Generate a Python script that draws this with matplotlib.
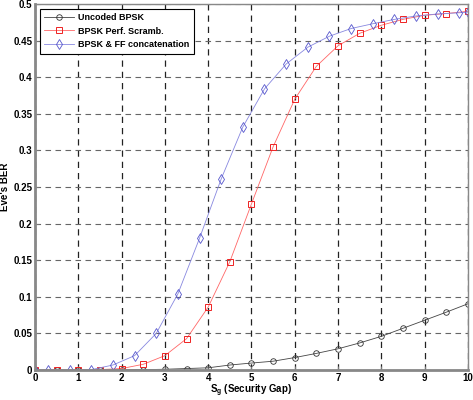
import matplotlib.pyplot as plt

plt.rcParams['font.family'] = ['Liberation Sans', 'DejaVu Sans']
plt.rcParams['font.weight'] = 'bold'
plt.rcParams['mathtext.default'] = 'regular'

# Security gap values (x) and Eve's BER curves
x_half = [0, 0.5, 1, 1.5, 2, 2.5, 3, 3.5, 4, 4.5, 5, 5.5, 6, 6.5, 7, 7.5, 8, 8.5, 9, 9.5, 10]

ber_uncoded = [0.0, 0.0, 0.0, 0.0002, 0.0003, 0.0005, 0.001, 0.002, 0.003, 0.0068, 0.0095,
               0.012, 0.017, 0.0227, 0.029, 0.037, 0.046, 0.057, 0.068, 0.079, 0.0905]

ber_scramb = [0.0, 0.0, 0.0, 0.0005, 0.002, 0.0078, 0.0196, 0.0428, 0.086, 0.148, 0.227,
              0.305, 0.370, 0.415, 0.443, 0.460, 0.471, 0.479, 0.4846, 0.487, 0.490]

x_ff = [0, 0.3, 0.8, 1.3, 1.8, 2.3, 2.8, 3.3, 3.8, 4.3, 4.8, 5.3, 5.8, 6.3, 6.8,
        7.3, 7.8, 8.3, 8.8, 9.3, 9.8, 10]
ber_ff = [0.0, 0.0, 0.0, 0.0005, 0.0068, 0.0196, 0.050, 0.104, 0.180, 0.261, 0.332, 0.384,
          0.418, 0.441, 0.456, 0.4665, 0.473, 0.479, 0.4837, 0.4864, 0.488, 0.489]

fig = plt.figure(figsize=(4.73, 4.0), dpi=100)
ax = fig.add_axes([0.074, 0.075, 0.9154, 0.915])

ax.plot(x_half, ber_uncoded, color='#444444', lw=0.6, marker='o', ms=4,
        mfc='none', mec='#333333', mew=0.6, label='Uncoded BPSK')
ax.plot(x_half, ber_scramb, color='#ff6666', lw=0.6, marker='s', ms=4,
        mfc='none', mec='#ee2222', mew=0.7, label='BPSK Perf. Scramb.')
ax.plot(x_ff, ber_ff, color='#8888e0', lw=0.6, marker='d', ms=5,
        mfc='none', mec='#5555cc', mew=0.6, label='BPSK & FF concatenation')

ax.set_xlim(0, 10)
ax.set_ylim(0, 0.5)
ax.set_xticks(range(0, 11))
ax.set_yticks([0, 0.05, 0.1, 0.15, 0.2, 0.25, 0.3, 0.35, 0.4, 0.45, 0.5])
ax.set_yticklabels(['0', '0.05', '0.1', '0.15', '0.2', '0.25', '0.3', '0.35', '0.4', '0.45', '0.5'])
ax.tick_params(direction='in', labelsize=7, length=3, color='#777777', pad=2)

ax.xaxis.grid(True, linestyle=(0, (5, 4)), color='#222222', lw=0.9)
ax.yaxis.grid(True, linestyle=(0, (5, 4)), color='#666666', lw=0.8)

for side in ['left', 'bottom']:
    ax.spines[side].set_color('#888888')
    ax.spines[side].set_linewidth(2)
for side in ['right', 'top']:
    ax.spines[side].set_color('#888888')
    ax.spines[side].set_linewidth(1)

ax.set_xlabel(r'S$_g$ (Security Gap)', fontsize=7, fontweight='bold', labelpad=0)
ax.set_ylabel("Eve's BER", fontsize=7, fontweight='bold', labelpad=2)

leg = ax.legend(loc='upper left', fontsize=6.5, frameon=True, fancybox=False,
                edgecolor='black', framealpha=1, borderpad=0.5, labelspacing=0.5,
                handlelength=3.3, handletextpad=0.5, borderaxespad=0.5)
leg.get_frame().set_linewidth(0.8)

fig.savefig('out.png', dpi=100)
